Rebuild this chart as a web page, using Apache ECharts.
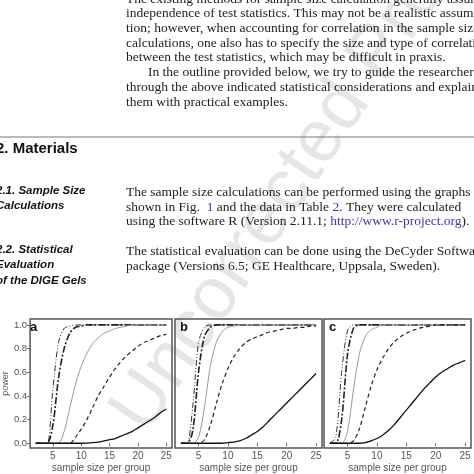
<!DOCTYPE html>
<html>
<head>
<meta charset="utf-8">
<script src="https://cdn.jsdelivr.net/npm/echarts@6/dist/echarts.min.js"></script>
<style>html,body{margin:0;padding:0;background:#fff}#main{width:474px;height:474px}</style>
</head>
<body>
<div id="main"></div>
<script>
// sample sizes per group
let sizes = [2,3,4,5,6,7,8,9,10,11,12,13,14,15,16,17,18,19,20,21,22,23,24,25];
let yTicks = [0, 0.2, 0.4, 0.6, 0.8, 1.0];
let xTicks = [5, 10, 15, 20, 25];
let panelNames = ['a', 'b', 'c'];

// panel a
let a_ddd = [0,0,0,0.45,0.85,0.97,0.99,1,1,1,1,1,1,1,1,1,1,1,1,1,1,1,1,1];
let a_dd = [0,0,0,0.15,0.55,0.8,0.93,0.98,0.99,1,1,1,1,1,1,1,1,1,1,1,1,1,1,1];
let a_gray = [0,0,0,0,0,0.1,0.3,0.5,0.65,0.76,0.84,0.89,0.93,0.95,0.97,0.98,0.99,1,1,1,1,1,1,1];
let a_dash = [0,0,0,0,0,0,0,0.05,0.12,0.2,0.3,0.4,0.48,0.56,0.63,0.69,0.74,0.78,0.82,0.85,0.87,0.89,0.91,0.92];
let a_black = [0,0,0,0,0,0,0,0,0,0.002,0.005,0.01,0.02,0.03,0.04,0.06,0.08,0.1,0.13,0.16,0.19,0.22,0.26,0.29];
// panel b
let b_ddd = [0,0,0.3,0.85,0.98,1,1,1,1,1,1,1,1,1,1,1,1,1,1,1,1,1,1,1];
let b_dd = [0,0,0.1,0.6,0.9,0.98,1,1,1,1,1,1,1,1,1,1,1,1,1,1,1,1,1,1];
let b_gray = [0,0,0,0.05,0.3,0.65,0.85,0.94,0.98,0.99,1,1,1,1,1,1,1,1,1,1,1,1,1,1];
let b_dash = [0,0,0,0,0.03,0.15,0.33,0.5,0.63,0.73,0.8,0.85,0.88,0.9,0.92,0.94,0.95,0.96,0.97,0.97,0.98,0.98,0.99,0.99];
let b_black = [0,0,0,0,0,0,0,0,0.005,0.01,0.02,0.04,0.07,0.1,0.14,0.19,0.24,0.29,0.34,0.39,0.44,0.49,0.54,0.59];
// panel c
let c_ddd = [0,0.05,0.6,0.95,1,1,1,1,1,1,1,1,1,1,1,1,1,1,1,1,1,1,1,1];
let c_dd = [0,0,0.2,0.75,0.97,1,1,1,1,1,1,1,1,1,1,1,1,1,1,1,1,1,1,1];
let c_gray = [0,0,0,0.1,0.45,0.75,0.9,0.96,0.98,1,1,1,1,1,1,1,1,1,1,1,1,1,1,1];
let c_dash = [0,0,0,0,0.02,0.12,0.3,0.48,0.62,0.72,0.8,0.86,0.9,0.93,0.95,0.97,0.98,0.99,1,1,1,1,1,1];
let c_black = [0,0,0,0,0,0,0.005,0.02,0.04,0.07,0.11,0.16,0.22,0.28,0.34,0.4,0.46,0.51,0.56,0.6,0.63,0.66,0.68,0.7];

let panels = [
    [a_ddd, a_dd, a_gray, a_dash, a_black],
    [b_ddd, b_dd, b_gray, b_dash, b_black],
    [c_ddd, c_dd, c_gray, c_dash, c_black]
];

let styles = [
    { color: '#333', width: 1, type: [6, 2, 1, 2, 1, 2] },
    { color: '#222', width: 1.6, type: [7, 2, 2, 2] },
    { color: '#999', width: 1, type: 'solid' },
    { color: '#222', width: 1.2, type: [4, 3] },
    { color: '#111', width: 1.3, type: 'solid' }
];

let lefts = [25, 175, 324];
let grids = [], xAxes = [], yAxes = [], series = [];

lefts.forEach((l, i) => {
    grids.push({ left: l, top: 319, width: 147, height: 133, show: true,
        borderColor: '#555', borderWidth: 1.5, backgroundColor: 'transparent' });
    xAxes.push({
        type: 'value', gridIndex: i, min: 1, max: 26,
        axisLine: { show: false }, splitLine: { show: false },
        axisTick: { show: true, customValues: xTicks, length: 3, lineStyle: { color: '#666' } },
        axisLabel: { customValues: xTicks, color: '#555', fontSize: 10, margin: 3, fontFamily: 'Liberation Sans' },
        name: 'sample size per group', nameLocation: 'middle', nameGap: 15,
        nameTextStyle: { color: '#555', fontSize: 10, fontFamily: 'Liberation Sans' }
    });
    yAxes.push({
        type: 'value', gridIndex: i, min: -0.04, max: 1.05,
        axisLine: { show: false }, splitLine: { show: false },
        axisTick: { show: i === 0, customValues: yTicks, length: 3, lineStyle: { color: '#666' } },
        axisLabel: { show: i === 0, customValues: yTicks, color: '#555', fontSize: 9.5, margin: 3,
            fontFamily: 'Liberation Sans', formatter: v => v.toFixed(1) },
        name: i === 0 ? 'power' : '', nameLocation: 'middle', nameGap: 19, nameRotate: 90,
        nameTextStyle: { color: '#555', fontSize: 9, fontFamily: 'Liberation Sans' }
    });
    panels[i].forEach((vals, k) => {
        series.push({
            type: 'line', xAxisIndex: i, yAxisIndex: i, showSymbol: false, smooth: 0.3,
            data: sizes.map((s, j) => [s, vals[j]]), lineStyle: styles[k], z: 3
        });
    });
});

let serif = 'Liberation Serif';
let bodyFont = { fontFamily: serif, fontSize: 13.5, fill: '#222' };
let bodyLines = [
    [126, -8, 'The existing methods for sample size calculation generally assume'],
    [126, 6, 'independence of test statistics. This may not be a realistic assump-'],
    [126, 21, 'tion; however, when accounting for correlation in the sample size'],
    [126, 36, 'calculations, one also has to specify the size and type of correlation'],
    [126, 50, 'between the test statistics, which may be difficult in praxis.'],
    [148, 65, 'In the outline provided below, we try to guide the researcher'],
    [126, 80, 'through the above indicated statistical considerations and explain'],
    [126, 95, 'them with practical examples.'],
    [126, 185, 'The sample size calculations can be performed using the graphs'],
    [126, 200, '{n|shown in Fig. }{b| 1}{n| and the data in Table }{b|2}{n|. They were calculated}'],
    [126, 214, '{n|using the software R (Version 2.11.1; }{b|http://www.r-project.org}{n|).}'],
    [126, 244, 'The statistical evaluation can be done using the DeCyder Software'],
    [126, 259, 'package (Versions 6.5; GE Healthcare, Uppsala, Sweden).']
];
let rich = { n: { fontFamily: serif, fontSize: 13.5, fill: '#222' }, b: { fontFamily: serif, fontSize: 13.5, fill: '#3a3aa8' } };

let graphics = [{
    type: 'text', z: -1, rotation: 0.98, x: 160, y: 445,
    style: { text: 'Uncorrected Proof', fontFamily: 'Liberation Sans', fontSize: 74, fill: '#e6e6e6', textVerticalAlign: 'bottom' }
}];
bodyLines.forEach(([x, y, t]) => {
    graphics.push({ type: 'text', x: x, y: y, style: Object.assign({ text: t, rich: rich }, bodyFont) });
});
graphics.push({ type: 'line', shape: { x1: 0, y1: 137, x2: 474, y2: 137 }, style: { stroke: '#777', lineWidth: 1 } });
let sans = { fontFamily: 'Liberation Sans', fontWeight: 'bold', fill: '#111' };
graphics.push({ type: 'text', x: -4, y: 141, style: Object.assign({ text: '2. Materials', fontSize: 15 }, sans) });
[[-4, 185, '2.1. Sample Size'], [-4, 200, 'Calculations'], [-4, 244, '2.2. Statistical'],
 [-4, 259, 'Evaluation'], [-4, 275, 'of the DIGE Gels']].forEach(([x, y, t]) => {
    graphics.push({ type: 'text', x: x, y: y, style: Object.assign({ text: t, fontSize: 11.5, fontStyle: 'italic' }, sans) });
});
lefts.forEach((l, i) => {
    graphics.push({ type: 'text', x: l + 5, y: 321, z: 10, style: Object.assign({ text: panelNames[i], fontSize: 13 }, sans) });
});

var myChart = echarts.init(document.getElementById('main'));
myChart.setOption({
    animation: false,
    grid: grids, xAxis: xAxes, yAxis: yAxes, series: series, graphic: graphics
});
</script>
</body>
</html>
